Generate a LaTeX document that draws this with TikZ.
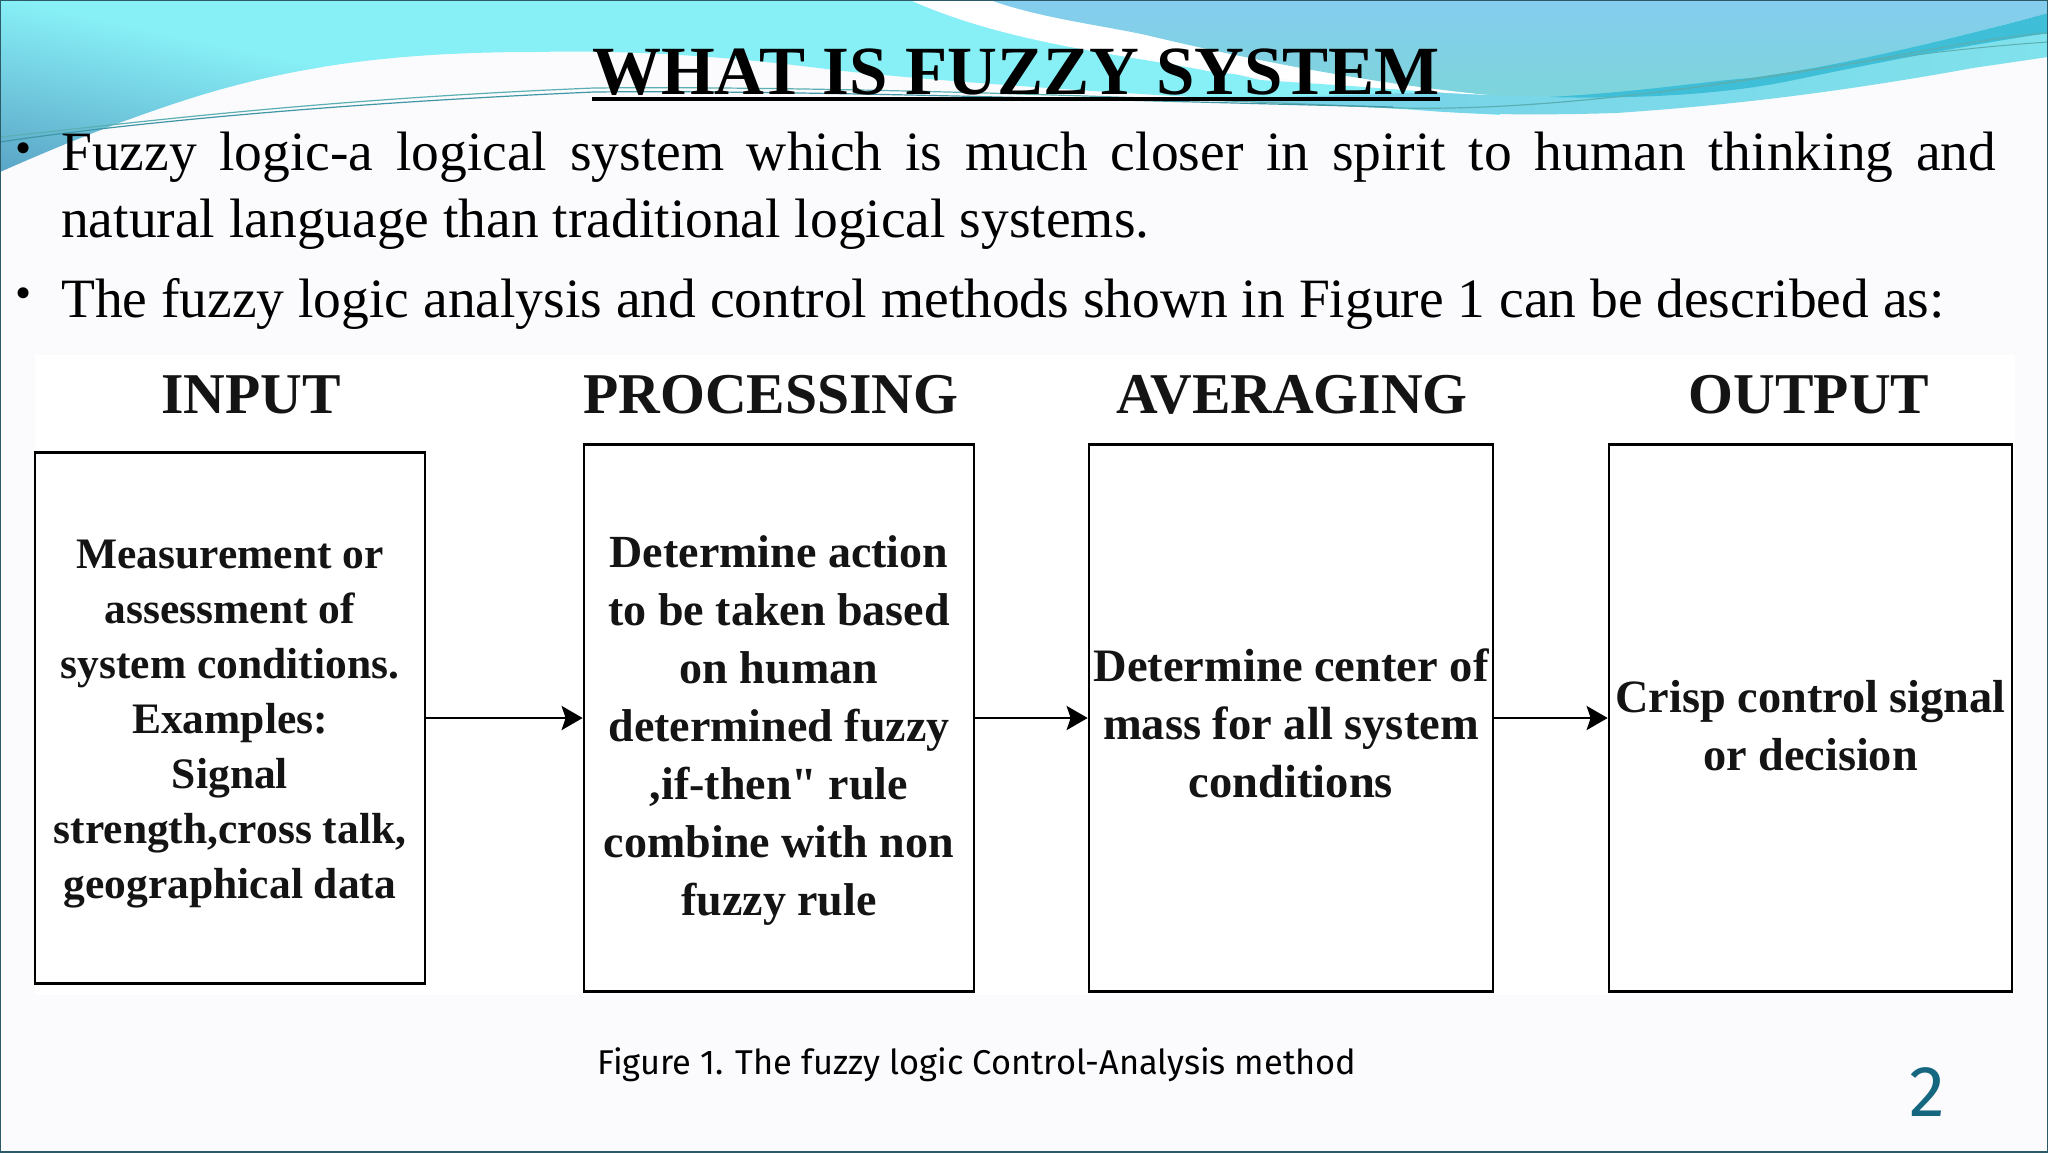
\documentclass[tikz,border=0pt]{standalone}
\usepackage{fontspec}
\setmainfont{Liberation Serif}
\newfontfamily\plainquote{Liberation Serif}
\newfontfamily\capfont{Fira Sans}
\usetikzlibrary{arrows.meta,calc}
\definecolor{pagebg}{HTML}{FBFAFC}
\definecolor{frameC}{HTML}{2C5A66}
\definecolor{cyanTop}{HTML}{87EFF6}
\definecolor{cyanLow}{HTML}{4A8AB5}
\definecolor{blueTop}{HTML}{85CDEF}
\definecolor{blueLow}{HTML}{7DD5DA}
\definecolor{tealBand}{HTML}{3FBED8}
\definecolor{skyLow}{HTML}{75CFE6}
\definecolor{skyR}{HTML}{80E2EC}
\definecolor{lineC}{HTML}{5AAFB2}
\definecolor{lineD}{HTML}{3F97A5}
\definecolor{pageNum}{HTML}{15677F}
\definecolor{inkC}{HTML}{141414}
\tikzset{
  flowbox/.style={draw=black,line width=2.7pt,fill=white,inner sep=0pt,align=center,text=inkC,
    minimum width=#1},
  flowarrow/.style={line width=2.9pt,-{Stealth[length=21pt,width=24pt,inset=4pt]}},
  heading/.style={anchor=base,inner sep=0pt,text=inkC,font=\fontsize{57.7}{62}\selectfont\bfseries},
  bodyline/.style={anchor=base west,inner sep=0pt,font=\fontsize{55.5}{60}\selectfont},
  bulletmark/.style={anchor=base,inner sep=0pt,font=\fontsize{46}{50}\selectfont},
  thinwave/.style={line width=1.2pt,draw=lineC},
}
\begin{document}
\begin{tikzpicture}[x=1pt,y=-1pt]
\useasboundingbox (0,0) rectangle (2048,1152);
\fill[pagebg] (0,0) rectangle (2048,1152);
% left cyan wave
\begin{scope}
\clip (0,0) -- (915,0) .. controls (1000,35) and (1100,42) .. (1146,53)
  -- (1260,80) -- (1500,96) -- (1500,115) -- (1400,109)
  .. controls (1250,100) and (1000,88) .. (834,70)
  .. controls (720,55) and (620,50) .. (536,52)
  .. controls (400,52) and (300,65) .. (201,95)
  .. controls (120,120) and (50,150) .. (0,172) -- cycle;
\fill[cyanTop] (0,0) rectangle (1500,120);
\begin{scope}[transform canvas={rotate around={-12:(0,172)}}]
  \shade[top color=cyanTop,bottom color=cyanLow] (-300,2) rectangle (1100,232);
\end{scope}
\end{scope}
% lower right sky band
\begin{scope}
\clip (1200,100) -- (1400,108) .. controls (1450,114) and (1520,116) .. (1616,113)
  .. controls (1720,106) and (1830,94) .. (1973,68) -- (2048,57) -- (2048,20) -- (1500,90) -- cycle;
\shade[left color=skyLow,right color=skyR] (1200,15) rectangle (2048,120);
\end{scope}
% white swoosh (background behind title)
\fill[white] (910,0) -- (990,0) .. controls (1040,18) and (1100,25) .. (1146,35)
  .. controls (1250,60) and (1380,85) .. (1491,95)
  .. controls (1400,92) and (1300,80) .. (1213,72)
  .. controls (1130,55) and (1010,45) .. (910,0) -- cycle;
% upper-right blue
\begin{scope}
\clip (990,0) .. controls (1040,18) and (1100,25) .. (1146,35)
  .. controls (1250,60) and (1380,85) .. (1491,95)
  .. controls (1600,100) and (1680,90) .. (1750,78)
  .. controls (1830,68) and (1950,40) .. (2048,13) -- (2048,0) -- cycle;
\shade[top color=blueTop,bottom color=blueLow] (990,0) rectangle (2048,100);
\end{scope}
% teal band
\fill[tealBand] (1549,97) .. controls (1640,92) and (1700,82) .. (1750,78)
  .. controls (1830,68) and (1950,40) .. (2048,13) -- (2048,33)
  .. controls (1970,45) and (1900,58) .. (1794,80)
  .. controls (1720,96) and (1620,99) .. (1549,97) -- cycle;
% thin lines
\draw[thinwave] (0,137) .. controls (100,127) and (300,100) .. (594,88)
  .. controls (800,86) and (1100,95) .. (1400,108)
  .. controls (1500,110) and (1620,100) .. (1794,73)
  .. controls (1880,60) and (1980,38) .. (2048,33);
\draw[thinwave,draw=lineD] (0,142) .. controls (100,127) and (300,105) .. (594,92)
  .. controls (800,90) and (1100,100) .. (1393,107);
\draw[thinwave,line width=1pt] (1660,92) .. controls (1780,76) and (1900,52) .. (2048,42);
% frame
\draw[frameC,line width=2.6pt] (0,0) rectangle (2048,1152);

% title
\node[anchor=base,inner sep=0pt,font=\fontsize{69}{72}\selectfont\bfseries] (title) at (1016,94) {WHAT IS FUZZY SYSTEM};
\draw[line width=3.6pt] ([yshift=-5pt]title.base west) -- ([yshift=-5pt]title.base east);

% body
\node[bulletmark] (b1) at (24,163) {•};
\node[bodyline] (l1) at (61,170) {\makebox[1935pt][s]{Fuzzy logic-a logical system which is much closer in spirit to human thinking and}};
\node[bodyline] (l2) at (61,237) {natural language than traditional logical systems.};
\node[bulletmark] (b2) at (24,308) {•};
\node[bodyline] (l3) at (61,317) {The fuzzy logic analysis and control methods shown in Figure 1 can be described as:};

% figure panel
\fill[white] (35,355) rectangle (2015,995);

\node[heading] (hin) at (251,413) {INPUT};
\node[heading] (hpr) at (771,413) {PROCESSING};
\node[heading] (hav) at (1292,413) {AVERAGING};
\node[heading] (hou) at (1809,413) {OUTPUT};

\node[flowbox=390pt,minimum height=531pt,font=\fontsize{43.5}{55}\selectfont\bfseries] (inp) at (230,718)
  {\rule{0pt}{40pt}Measurement or\\assessment of\\system conditions.\\Examples:\\Signal\\strength,cross talk,\\geographical data};
\node[flowbox=390pt,minimum height=547pt,font=\fontsize{46}{58}\selectfont\bfseries] (pro) at (779,718)
  {\rule{0pt}{57pt}Determine action\\to be taken based\\on human\\determined fuzzy\\,if-then{\plainquote\bfseries"} rule\\combine with non\\fuzzy rule};
\node[flowbox=404pt,minimum height=547pt,font=\fontsize{46.5}{58}\selectfont\bfseries] (avg) at (1291,718)
  {\rule{0pt}{44pt}Determine center of\\mass for all system\\conditions};
\node[flowbox=403pt,minimum height=547pt,font=\fontsize{46.3}{58}\selectfont\bfseries] (out) at (1810.5,718)
  {\rule{0pt}{47pt}Crisp control signal\\or decision};

\draw[flowarrow] (inp) -- (pro);
\draw[flowarrow] (pro) -- (avg);
\draw[flowarrow] (avg) -- (out);

\node[anchor=base,inner sep=0pt,font=\capfont\fontsize{34.4}{40}\selectfont] (cap) at (977,1074) {Figure 1. The fuzzy logic Control-Analysis method};
\node[anchor=base,inner sep=0pt,text=pageNum,font=\capfont\fontsize{72}{80}\selectfont] (num) at (1927,1116) {2};
\end{tikzpicture}
\end{document}
